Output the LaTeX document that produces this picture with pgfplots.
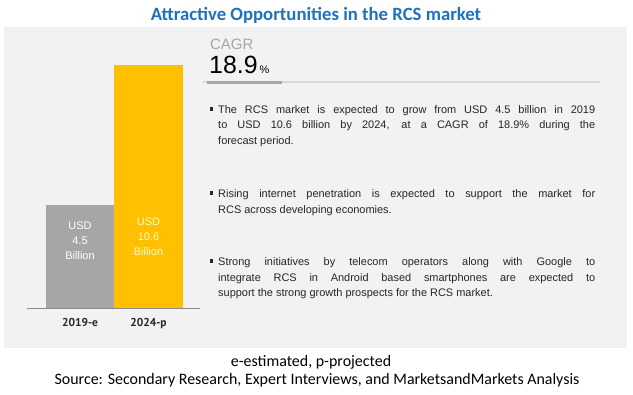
\documentclass[border=0pt]{standalone}
\usepackage{pgfplots}
\pgfplotsset{compat=1.18}
\usepackage{fontspec}
\setmainfont{Carlito}
\newfontfamily\bodyf{Liberation Sans}
\newfontfamily\tickf{PT Sans}
\definecolor{titleblue}{HTML}{1F72BD}
\definecolor{panel}{HTML}{F2F2F2}
\definecolor{bargray}{HTML}{A6A6A6}
\definecolor{baryellow}{HTML}{FFC000}
\definecolor{txtgray}{HTML}{A6A6A6}
\definecolor{linelight}{HTML}{D9D9D9}
\definecolor{txt}{HTML}{262626}
\begin{document}
\begin{tikzpicture}[x=1bp,y=-1bp]
\fill[white] (0,0) rectangle (633,394);
\fill[panel] (4,27) rectangle (627,348);
\node[font=\fontsize{18.8}{21}\selectfont\bfseries,text=titleblue] at (316,15) {Attractive Opportunities in the RCS market};
% CAGR
\node[anchor=west,font=\bodyf\fontsize{15}{16}\selectfont,text=txtgray,inner sep=0] at (210,44) {CAGR};
\node[anchor=base west,font=\bodyf\fontsize{25}{26}\selectfont,text=black,inner sep=0] at (209,73) {18.9{\fontsize{11}{12}\selectfont\,\%}};
\draw[linelight,line width=1.5bp] (203,82) -- (600,82);
\draw[bargray,line width=3bp] (207,82) -- (282,82);
% bullets
\begin{scope}[every node/.style={anchor=base west,inner sep=0,font=\bodyf\fontsize{11}{13}\selectfont,text=txt}]
\node at (218,113) {\makebox[377bp][s]{The RCS market is expected to grow from USD 4.5 billion in 2019}};
\node at (218,128) {\makebox[377bp][s]{to USD 10.6 billion by 2024, at a CAGR of 18.9\% during the}};
\node at (218,144) {forecast period.};
\node at (218,197) {\makebox[377bp][s]{Rising internet penetration is expected to support the market for}};
\node at (218,213) {RCS across developing economies.};
\node at (218,265) {\makebox[377bp][s]{Strong initiatives by telecom operators along with Google to}};
\node at (218,281) {\makebox[377bp][s]{integrate RCS in Android based smartphones are expected to}};
\node at (218,296) {support the strong growth prospects for the RCS market.};
\end{scope}
\foreach \yy in {109,193,261}{
  \fill[txt] (210,\yy-1.6) rectangle (213.2,\yy+1.6);
}
% chart
\begin{axis}[
  at={(27bp,-308bp)}, anchor=south west,
  scale only axis, width=173bp, height=243bp,
  xmin=-0.774, xmax=1.752, ymin=0, ymax=10.6,
  axis x line=bottom, axis y line=none,
  axis line style={-, black!45, line width=0.8bp},
  xtick={0,1}, xticklabels={2019-e,2024-p},
  major tick length=0pt,
  xticklabel style={font=\tickf\bfseries\fontsize{11.5}{13}\selectfont, text=txt, yshift=-7bp},
  clip=false,
]
\addplot[ybar, bar width=69bp, bar shift=0, fill=bargray, draw=none] coordinates {(0,4.5)};
\addplot[ybar, bar width=69bp, bar shift=0, fill=baryellow, draw=none] coordinates {(1,10.6)};
\node[align=center,text=white,font=\bodyf\fontsize{11}{15}\selectfont] at (axis cs:0,2.95) {USD\\4.5\\Billion};
\node[align=center,text=yellow!20,font=\bodyf\fontsize{11}{15}\selectfont] at (axis cs:1,3.1) {USD\\10.6\\Billion};
\end{axis}
% footer
\node[font=\fontsize{16}{18}\selectfont,text=black] at (311,362) {e-estimated, p-projected};
\node[font=\fontsize{16}{18}\selectfont,text=black] at (317,380) {Source: Secondary Research, Expert Interviews, and MarketsandMarkets Analysis};
\end{tikzpicture}
\end{document}
